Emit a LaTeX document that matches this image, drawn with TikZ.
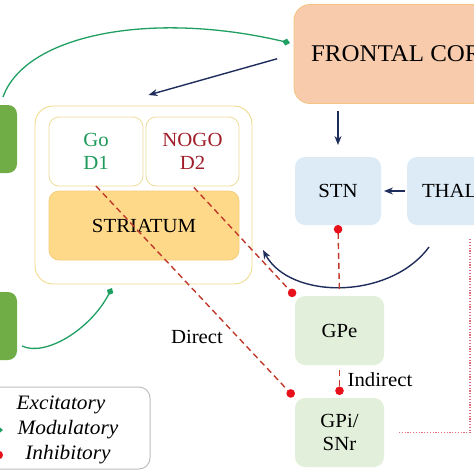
\documentclass[tikz,border=0pt]{standalone}
\usepackage{fontspec}
\setmainfont{Liberation Serif}[FakeStretch=1.04]
\usetikzlibrary{arrows.meta,calc}
\definecolor{fcfill}{HTML}{F8CBAD}
\definecolor{fcdraw}{HTML}{F4C37E}
\definecolor{bluefill}{HTML}{DDEBF7}
\definecolor{gpfill}{HTML}{E2EFDA}
\definecolor{leafgreen}{HTML}{70AD47}
\definecolor{strfill}{HTML}{FFD98A}
\definecolor{strdraw}{HTML}{F5CF7A}
\definecolor{outerdraw}{HTML}{F2DA8C}
\definecolor{innerdraw}{HTML}{EEDC9A}
\definecolor{gotext}{HTML}{1E9A5A}
\definecolor{nogotext}{HTML}{A01E2A}
\definecolor{modgreen}{HTML}{1F9F62}
\definecolor{navy}{HTML}{1F2D5C}
\definecolor{inhred}{HTML}{C0392B}
\definecolor{dotred}{HTML}{E8101A}
\definecolor{pinkdot}{HTML}{E07080}
\definecolor{leggray}{HTML}{BFBFBF}
\tikzset{
  dottip/.tip={Circle[length=8.5pt,color=dotred]},
  box/.style={inner sep=0pt, outer sep=0pt, rounded corners=10pt, align=center},
  fcbox/.style={box, fill=fcfill, draw=fcdraw, line width=0.8pt, rounded corners=16pt},
  bluebox/.style={box, fill=bluefill, minimum height=68pt},
  gpbox/.style={box, fill=gpfill, minimum width=89pt, minimum height=69pt},
  leafbox/.style={box, fill=leafgreen, rounded corners=9pt, minimum width=47pt, minimum height=68pt},
  innerbox/.style={box, draw=innerdraw, line width=0.8pt, fill=white, minimum width=94pt, minimum height=69pt},
  excit/.style={navy, line width=1.4pt, -{Stealth[length=9pt,width=7pt,inset=3pt]}},
  modul/.style={modgreen, line width=1.3pt, -{Diamond[length=8pt,width=7pt]}},
  inhib/.style={inhred, line width=1.4pt, dash pattern=on 6pt off 4pt},
  feedback/.style={pinkdot, line width=1.2pt, dash pattern=on 1.2pt off 1.6pt},
  lbl/.style={inner sep=0pt},
  legtext/.style={inner sep=0pt, font=\itshape\fontsize{20.5}{24}\selectfont}
}
\begin{document}
\begin{tikzpicture}[x=1pt,y=-1pt,font=\fontsize{20}{23}\selectfont]
\useasboundingbox (0,0) rectangle (474,474);

% boxes
\node[fcbox, anchor=west, inner xsep=17pt, minimum height=99pt, font=\fontsize{24}{28}\selectfont] (fc) at (294,54) {FRONTAL CORTEX};
\node[bluebox, minimum width=86pt] (stn) at (338,191) {STN};
\node[bluebox, anchor=west, inner xsep=15pt] (thal) at (407,191) {THALAMUS};

\node[box, draw=outerdraw, line width=0.9pt, fill=white, rounded corners=18pt, minimum width=217pt, minimum height=178pt] (so) at (143.5,195) {};
\node[innerbox, text=gotext] (go) at (96,151.5) {Go\\D1};
\node[innerbox, text=nogotext, minimum width=93pt] (nogo) at (192.5,151.5) {NOGO\\D2};
\node[box, fill=strfill, draw=strdraw, line width=0.8pt, minimum width=190pt, minimum height=69pt] (str) at (144,225.5) {STRIATUM};

\node[gpbox] (gpe) at (339.5,330.5) {GPe};
\node[gpbox] (gpi) at (339.5,432.5) {GPi/\\SNr};

\node[leafbox] (g1) at (-6.5,139) {};
\node[leafbox] (g2) at (-6.5,326) {};

% legend
\node[box, draw=leggray, line width=1pt, rounded corners=11pt, minimum width=172pt, minimum height=82pt] (leg) at (64,428) {};
\node[legtext] (lex) at (61,405) {Excitatory};
\node[legtext] (lmo) at (68,430) {Modulatory};
\node[legtext] (lin) at (68,455) {Inhibitory};
\coordinate (lmoa) at (-30,430);
\coordinate (lmob) at (3,430);
\coordinate (lina) at (-30,455);
\coordinate (linb) at (3,455);
\draw[modgreen, line width=1.3pt, -{Diamond[length=6pt,width=5pt]}] (lmoa) -- (lmob);
\draw[inhib, -{dottip}] (lina) -- (linb);

% excitatory connectors
\draw[excit, shorten <=7pt, shorten >=12pt] (stn.north |- fc.south) -- (stn.north);
\draw[excit, shorten <=2pt, shorten >=3pt] (thal.west) -- (stn.east);
\draw[excit, shorten <=17.5pt] (fc.west) -- ($(so.north)+(5,-11)$);
\draw[excit] ($(thal.south west)+(22,22)$) .. controls (390,300) and (290,300) .. ($(so.south east)+(11,-34)$);

% modulatory connectors
\draw[modul] ($(g1.north east)+(-14,-8)$) .. controls (25,35) and (150,10) .. ($(fc.west)+(-4,-11)$);
\draw[modul] ($(g2.east)+(5,20)$) .. controls (45,357) and (90,330) .. ($(so.south)+(-31.5,4)$);

% inhibitory connectors
\draw[inhib, {dottip}-, shorten >=4pt] (stn.south) -- (gpe.north);
\draw[inhib, -{dottip}, shorten <=2pt] (nogo.south) -- (gpe.north west);
\draw[inhib, -{dottip}, shorten >=2pt] (go.south) -- (gpi.north west);
\draw[inhib, -{dottip}, shorten <=5pt, shorten >=3pt] (gpe.south) -- (gpi.north);

% thalamic feedback (dotted)
\coordinate (thfb) at ($(thal.south west)+(63,13)$);
\draw[feedback, shorten <=15pt] (gpi.east) -| (thfb);

% labels
\node[lbl] (direct) at (197,337) {Direct};
\node[lbl] (indirect) at (380,380) {Indirect};
\end{tikzpicture}
\end{document}
